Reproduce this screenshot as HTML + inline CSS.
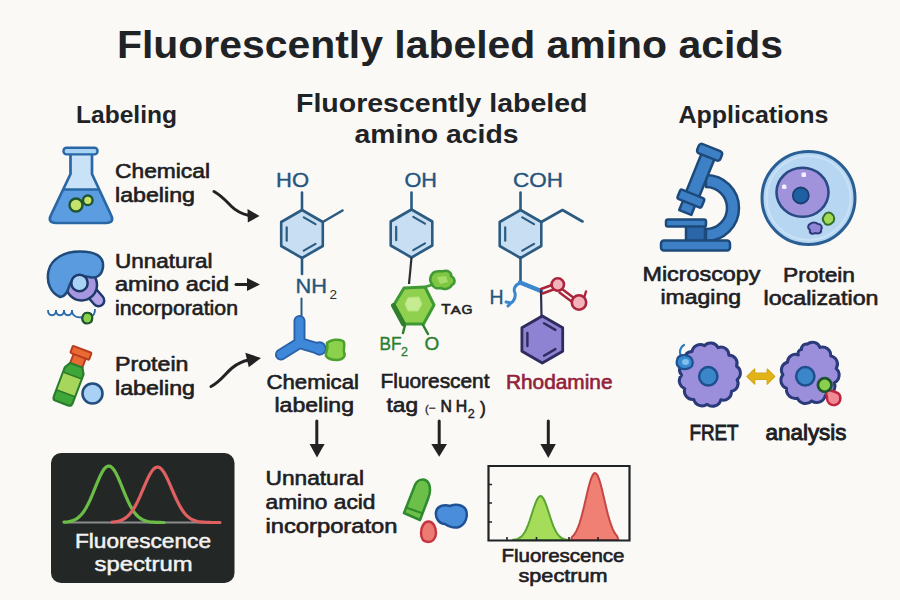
<!DOCTYPE html>
<html><head><meta charset="utf-8">
<style>
html,body{margin:0;padding:0;background:#faf9f6;width:900px;height:600px;overflow:hidden}
svg{display:block}
text{font-family:"Liberation Sans",sans-serif}
.b{font-weight:bold}
.lab{fill:#1d2023;font-size:20.5px;stroke:#1d2023;stroke-width:0.62px}
.chem{fill:#25557d;font-size:19.5px;stroke:#25557d;stroke-width:0.35px}
</style></head><body>
<svg width="900" height="600" viewBox="0 0 900 600">
<rect width="900" height="600" fill="#faf9f6"/>

<!-- ===== TITLES ===== -->
<text x="117" y="58" class="b" font-size="38.5" fill="#1f2326" textLength="666" lengthAdjust="spacingAndGlyphs">Fluorescently labeled amino acids</text>
<text x="76" y="123.3" class="b" font-size="24" fill="#1f2326" textLength="101" lengthAdjust="spacingAndGlyphs">Labeling</text>
<text x="678.5" y="123" class="b" font-size="24" fill="#1f2326" textLength="150" lengthAdjust="spacingAndGlyphs">Applications</text>
<text x="296" y="111.6" class="b" font-size="26" fill="#1f2326" textLength="291.5" lengthAdjust="spacingAndGlyphs">Fluorescently labeled</text>
<text x="354.5" y="143.3" class="b" font-size="26" fill="#1f2326" textLength="164" lengthAdjust="spacingAndGlyphs">amino acids</text>

<!-- ===== LEFT LABELS ===== -->
<text x="115" y="178.2" class="lab" textLength="95" lengthAdjust="spacingAndGlyphs">Chemical</text>
<text x="115" y="202" class="lab" textLength="80" lengthAdjust="spacingAndGlyphs">labeling</text>
<text x="115" y="267.5" class="lab" textLength="97.5" lengthAdjust="spacingAndGlyphs">Unnatural</text>
<text x="115" y="290.7" class="lab" textLength="114" lengthAdjust="spacingAndGlyphs">amino acid</text>
<text x="115" y="314.7" class="lab" textLength="123" lengthAdjust="spacingAndGlyphs">incorporation</text>
<text x="115" y="371.4" class="lab" textLength="73.5" lengthAdjust="spacingAndGlyphs">Protein</text>
<text x="115" y="395" class="lab" textLength="80" lengthAdjust="spacingAndGlyphs">labeling</text>

<!-- ===== CENTER LABELS ===== -->
<text x="266.5" y="388.8" class="lab" textLength="92.5" lengthAdjust="spacingAndGlyphs">Chemical</text>
<text x="274.5" y="412" class="lab" textLength="79.5" lengthAdjust="spacingAndGlyphs">labeling</text>
<text x="380.5" y="387.7" class="lab" textLength="109" lengthAdjust="spacingAndGlyphs">Fluorescent</text>
<text x="386.5" y="412.3" class="lab" textLength="31.5" lengthAdjust="spacingAndGlyphs">tag</text>
<text x="425" y="412.5" class="lab" style="font-size:11px;stroke-width:0.3px">(</text>
<text x="428.5" y="411.5" class="lab" style="font-size:12px;stroke-width:0.3px">−</text>
<text x="440.5" y="412.2" class="lab" style="font-size:15.8px;stroke-width:0.65px">N</text>
<text x="455.8" y="412.2" class="lab" style="font-size:15.8px;stroke-width:0.65px">H</text>
<text x="467.8" y="418" class="lab" style="font-size:12.5px;stroke-width:0.35px">2</text>
<text x="480" y="413.5" class="lab" style="font-size:17.5px;stroke-width:0.6px">)</text>
<text x="506" y="388.8" class="lab" fill="#9c2437" style="fill:#93213a;stroke:#93213a" textLength="106.5" lengthAdjust="spacingAndGlyphs">Rhodamine</text>

<text x="265.5" y="484.9" class="lab" textLength="98.5" lengthAdjust="spacingAndGlyphs">Unnatural</text>
<text x="265.5" y="509" class="lab" textLength="110" lengthAdjust="spacingAndGlyphs">amino acid</text>
<text x="265.5" y="533" class="lab" textLength="132" lengthAdjust="spacingAndGlyphs">incorporaton</text>

<!-- ===== RIGHT LABELS ===== -->
<text x="642.5" y="281.4" class="lab" textLength="118" lengthAdjust="spacingAndGlyphs">Microscopy</text>
<text x="660.5" y="304" class="lab" textLength="80.5" lengthAdjust="spacingAndGlyphs">imaging</text>
<text x="783" y="281.7" class="lab" textLength="72" lengthAdjust="spacingAndGlyphs">Protein</text>
<text x="763.5" y="304.8" class="lab" textLength="115" lengthAdjust="spacingAndGlyphs">localization</text>
<text x="689.5" y="440" class="lab" style="font-size:21.5px;stroke-width:0.9px" textLength="49" lengthAdjust="spacingAndGlyphs">FRET</text>
<text x="765.5" y="440" class="lab" style="font-size:21.5px;stroke-width:0.9px" textLength="81" lengthAdjust="spacingAndGlyphs">analysis</text>

<!-- ===== ARROWS ===== -->
<g fill="none" stroke="#222" stroke-width="3" stroke-linecap="round">
  <path d="M214,191.5 C222,196 226,201 231,206 C236,211 242,214 249,215.5"/>
  <path d="M236,284.5 L248,284.5"/>
  <path d="M211,386.5 C220,382 225,374 232,368 C238,363 243,361 249,360"/>
  <path d="M316.8,421 L316.8,446"/>
  <path d="M439.2,421 L439.2,446"/>
  <path d="M548.3,421 L548.3,446"/>
</g>
<g fill="#222">
  <path d="M259.5,216 L247.5,209 L247.8,222.5Z"/>
  <path d="M260,284.5 L247,278 L247,291Z"/>
  <path d="M261,358 L245.3,352.7 L248.8,367.3Z"/>
  <path d="M309.6,444 L324.6,444 L317,457.5Z"/>
  <path d="M431.3,444 L447,444 L439.2,456.7Z"/>
  <path d="M540.4,444 L555.8,444 L548.3,458Z"/>
</g>

<!-- ===== MOLECULE 1 ===== -->
<text x="276" y="186.7" class="chem" textLength="33" lengthAdjust="spacingAndGlyphs">HO</text>
<g stroke="#2c5b82" stroke-width="2.6" fill="none" stroke-linecap="round" stroke-linejoin="round">
  <path d="M302.0,210.0 L322.8,222.0 L322.8,246.0 L302.0,258.0 L281.2,246.0 L281.2,222.0Z" fill="#c8def2"/>
  <path d="M303.8,217.4 L315.5,224.1 M315.5,243.9 L303.8,250.6 M286.7,240.7 L286.7,227.3" stroke-width="2.2"/>
  <path d="M302,192.5 L302,210 M322.8,222 L342.5,210.5 M302,258 L302,274"/>
  <path d="M301.5,298.5 L301.5,316" stroke-width="2"/>
</g>
<text x="295.5" y="293" class="chem" textLength="31.5" lengthAdjust="spacingAndGlyphs">NH</text>
<text x="329.5" y="299" fill="#2b2f33" font-size="13.5">2</text>
<!-- antibody Y -->
<g stroke-linecap="round" fill="none">
  <path d="M299.5,321 L299.5,343 M299.5,343 L281,354.5 M299.5,343 L318,348.5" stroke="#2a62aa" stroke-width="12"/>
  <circle cx="319.5" cy="348.5" r="7.2" fill="#2a62aa"/>
  <path d="M299.5,321 L299.5,343 M299.5,343 L281,354.5 M299.5,343 L318,348.5" stroke="#3f88d9" stroke-width="8.2"/>
  <circle cx="319.5" cy="348.5" r="5.3" fill="#3f88d9"/>
</g>
<path d="M327,343 C331,339 339,339 343,341 C346,344 343,349 344,352 C346,356 343,360 337,360 C332,360 328,359 326,356 C325,352 329,349 327,343Z" fill="#8cd14b" stroke="#4aa12d" stroke-width="2.5"/>

<!-- ===== MOLECULE 2 ===== -->
<text x="404.5" y="187.2" class="chem" textLength="32.5" lengthAdjust="spacingAndGlyphs">OH</text>
<g stroke="#2c5b82" stroke-width="2.6" fill="none" stroke-linecap="round" stroke-linejoin="round">
  <path d="M411.5,209.5 L432.3,221.5 L432.3,245.5 L411.5,257.5 L390.7,245.5 L390.7,221.5Z" fill="#c8def2"/>
  <path d="M413.3,216.9 L425.0,223.6 M425.0,243.4 L413.3,250.1 M396.2,240.2 L396.2,226.8" stroke-width="2.2"/>
  <path d="M411.5,192.5 L411.5,209.5"/>
</g>
<path d="M411.5,257.5 L409,284" stroke="#2b2f33" stroke-width="2.2" fill="none"/>
<g stroke-linejoin="round">
  <path d="M404,288 L425,287 L434,305 L423.5,324 L403.5,324 L393.5,305.5Z" fill="#8fd14f" stroke="#3f9a34" stroke-width="3"/>
  <path d="M393.5,305.5 L403.5,324" stroke="#2f7f2c" stroke-width="5" stroke-linecap="round"/>
  <path d="M408,297.5 L419,297 L422,304 L418,311 L408,311 L405,304Z" fill="#c5ec90" stroke="#b3e27a" stroke-width="1"/>
  <path d="M425,287 L433,284.5" stroke="#3f9a34" stroke-width="2.5"/>
  <path d="M433,273 C436,270 441,272 444,271 C448,270 452,273 451,276 C455,278 456,283 452,285 C450,289 444,290 441,288 C437,289 433,288 432,284 C429,281 430,276 433,273Z" fill="#7fc743" stroke="#3f9a34" stroke-width="2.5"/>
  <path d="M437,277 L446,276 L448,282 L440,284Z" fill="#a6dc6a"/>
  <path d="M405,325 L403,333 M423,325 L428,334" stroke="#2f7f2c" stroke-width="2.5" stroke-linecap="round"/>
</g>
<text x="441.2" y="313.7" fill="#1f2326" font-size="15.5" stroke="#1f2326" stroke-width="0.6">T</text>
<text x="450.8" y="313.7" fill="#1f2326" font-size="11.5" stroke="#1f2326" stroke-width="0.6" textLength="10" lengthAdjust="spacingAndGlyphs">A</text>
<text x="461.5" y="313.7" fill="#1f2326" font-size="13" stroke="#1f2326" stroke-width="0.6" textLength="11" lengthAdjust="spacingAndGlyphs">G</text>
<text x="379.5" y="349.5" fill="#2b8030" stroke="#2b8030" stroke-width="0.4" font-size="19" textLength="22" lengthAdjust="spacingAndGlyphs">BF</text>
<text x="401" y="355.5" fill="#2b8030" stroke="#2b8030" stroke-width="0.3" font-size="12.5">2</text>
<text x="424.5" y="349.5" fill="#2b8030" stroke="#2b8030" stroke-width="0.4" font-size="19">O</text>

<!-- ===== MOLECULE 3 ===== -->
<text x="513" y="187.2" class="chem" textLength="50" lengthAdjust="spacingAndGlyphs">COH</text>
<g stroke="#2c5b82" stroke-width="2.6" fill="none" stroke-linecap="round" stroke-linejoin="round">
  <path d="M520.5,210.0 L541.3,222.0 L541.3,246.0 L520.5,258.0 L499.7,246.0 L499.7,222.0Z" fill="#c8def2"/>
  <path d="M522.3,217.4 L534.0,224.1 M534.0,243.9 L522.3,250.6 M505.2,240.7 L505.2,227.3" stroke-width="2.2"/>
  <path d="M520.5,192.5 L520.5,210 M541.3,222 L562.5,210 L582.5,221.5 M520.5,258 L520.5,281"/>
</g>
<text x="489.5" y="303.5" fill="#25557d" stroke="#25557d" stroke-width="0.3" font-size="19.5">H</text>
<g fill="none" stroke-linecap="round" stroke-linejoin="round">
  <path d="M520,282.5 L541,291" stroke="#3a87d0" stroke-width="4.5"/>
  <path d="M520,283 C515,285 513,289 515,293 C516,298 513,302 511,303 L508,306 M511,303 L506,302" stroke="#3a87d0" stroke-width="3"/>
  <path d="M541,291 L541.5,316" stroke="#2b2e4a" stroke-width="2.2"/>
  <path d="M541,289 L552,285 M542.5,293.5 L553.5,289.5 M562,289 L574,298 M559.5,292.5 L571.5,301.5 M584,298 L586,291.5" stroke="#aa243b" stroke-width="2.4"/>
</g>
<circle cx="557.8" cy="284.5" r="6.2" fill="#f3b3ba" stroke="#aa243b" stroke-width="2.6"/>
<circle cx="579" cy="302.5" r="7.2" fill="#f3b3ba" stroke="#aa243b" stroke-width="2.6"/>
<g stroke="#2e2b5e" stroke-width="2.8" fill="none" stroke-linecap="round" stroke-linejoin="round">
  <path d="M542.3,316.0 L562.7,327.8 L562.7,351.2 L542.3,363.0 L521.9,351.2 L521.9,327.8Z" fill="#8d83d2"/>
  <path d="M544.0,323.3 L555.4,329.9 M555.4,349.1 L544.0,355.7 M527.4,346.1 L527.4,332.9" stroke-width="2.4"/>
</g>

<!-- ===== FLASK ===== -->
<g stroke="#2a68a5" stroke-width="2.7" stroke-linejoin="round">
  <path d="M70.5,154 L70.5,174 L51,215 C48.5,220 50,223 56,223 L106,223 C112,223 113.5,220 111,215 L92,174 L92,154Z" fill="#c9e2f7" stroke="none"/>
  <path d="M63.1,189.5 L99.2,189.5 L111,215 C113.5,220 112,223 106,223 L56,223 C50,223 48.5,220 51,215Z" fill="#5c9de2" stroke="none"/>
  <path d="M70.5,154 L70.5,174 L51,215 C48.5,220 50,223 56,223 L106,223 C112,223 113.5,220 111,215 L92,174 L92,154" fill="none"/>
  <path d="M63.1,189.5 L99.2,189.5" fill="none" stroke-width="2.4"/>
  <rect x="63.5" y="147.8" width="34" height="6.6" rx="3" fill="#a9d3f5" stroke-width="2.4"/>
</g>
<g stroke="#1f5530" stroke-width="2.4">
  <circle cx="76" cy="205" r="6.5" fill="#c5e36a"/>
  <circle cx="87.8" cy="200.3" r="4.8" fill="#c5e36a"/>
</g>

<!-- ===== RIBOSOME ===== -->
<path d="M48,310 C48,317 56,317 56,310 C56,317 64,317 64,310 C64,317 72,317 72,310 C72,317 78,318 83,317 M92,316 C94,315 95,313 95,309" fill="none" stroke="#2a6aa8" stroke-width="1.8"/>
<g stroke="#1f4a7c" stroke-width="2.5" stroke-linejoin="round">
  <path d="M92,293 L98.5,300.5" stroke="#1f3a6a" stroke-width="14" stroke-linecap="round"/>
  <path d="M92,293 L98.5,300.5" stroke="#b3a4e8" stroke-width="9" stroke-linecap="round" fill="none"/>
  <circle cx="81.5" cy="285" r="15.5" fill="#a696e0" stroke="#1f3a6a"/>
  <path d="M60,297 C51,293 46,283 48.5,271 C51,259 64,251.5 80,251.5 C95,251.5 104,256 103,267 C102,275 97,279 89,277 C80,275 73,277 70,284 C68,289 67,296 60,297Z" fill="#5a9be0"/>
  <circle cx="79.5" cy="283" r="8.2" fill="#a9d3f5" stroke="#1f3a6a"/>
</g>
<path d="M83.5,314.5 C85,312 89,312.5 91,314 C93,316 92.5,320 91,322 C89,324 85,324 83.5,322 C82,320 82,317 83.5,314.5Z" fill="#8bd04a" stroke="#1f5530" stroke-width="2.2"/>

<!-- ===== BOTTLE ===== -->
<g transform="translate(82.3,349.3) rotate(20.7)" stroke-linejoin="round">
  <path d="M-6.5,7 L6.5,7 L6.5,18 L-6.5,18Z" fill="#ea6a33" stroke="#b83d1f" stroke-width="2"/>
  <path d="M-6.5,17 L6.5,17 L10,23 L10,54 C10,56.5 9,57.5 6.5,57.5 L-6.5,57.5 C-9,57.5 -10,56.5 -10,54 L-10,23Z" fill="#3fa63a" stroke="#2a7d2a" stroke-width="2.2"/>
  <rect x="-9" y="28" width="18" height="19" fill="#a6d65c"/>
  <path d="M-10,28 L10,28 M-10,47 L10,47" stroke="#2a7d2a" stroke-width="1.6"/>
  <rect x="-10" y="0" width="20" height="7.5" rx="1" fill="#ea6a33" stroke="#b83d1f" stroke-width="2"/>
</g>
<circle cx="92.5" cy="393.5" r="10" fill="#a9d0f5" stroke="#234f7f" stroke-width="2.6"/>

<!-- ===== MICROSCOPE ===== -->
<g stroke="#1d4a7a" stroke-width="2.5" stroke-linejoin="round" fill="#3d80c6">
  <path d="M706,175 A33,33 0 0 1 706,241 L706,229 A21,21 0 0 0 706,187Z"/>
  <rect x="686" y="225" width="19" height="17" fill="#2a66a8"/>
  <rect x="666" y="219.5" width="40" height="7" rx="2"/>
  <rect x="661" y="240.5" width="69" height="10" rx="3"/>
  <g transform="translate(698,181) rotate(22)">
    <rect x="-7" y="-28" width="14" height="52"/>
    <rect x="-6.5" y="22" width="13" height="12"/>
    <rect x="-13" y="14" width="26" height="10" rx="2"/>
    <rect x="-12.5" y="-36" width="25" height="10" rx="3"/>
  </g>
</g>

<!-- ===== CELL ===== -->
<circle cx="808.5" cy="198" r="46.5" fill="#b7d6f2" stroke="#2a5f94" stroke-width="3"/>
<circle cx="808.5" cy="198" r="42" fill="none" stroke="#c9e1f6" stroke-width="2"/>
<ellipse cx="802.5" cy="192.3" rx="26" ry="24.5" fill="#a192dc" stroke="#2a4a85" stroke-width="2.6"/>
<circle cx="800.8" cy="195.5" r="8" fill="#1f60a2" stroke="#1a3f70" stroke-width="1.8"/>
<rect x="801.5" y="172.5" width="4.5" height="4.5" rx="1" fill="#f4f0ff"/>
<rect x="782" y="184.5" width="4.5" height="4.5" rx="1.5" fill="#f4f0ff"/>
<path d="M824.5,215 C826,212 830,212 832,214 C835,216 835,221 832,223 C829,226 825,225 824,222 C822,220 823,217 824.5,215Z" fill="#a2d955" stroke="#2f6e2f" stroke-width="2"/>
<path d="M810,224 C812,222 816,222 818,224 C821,224 823,227 821,230 C822,233 818,234 815,233 C812,235 809,233 810,230 C807,228 808,225 810,224Z" fill="#8f86d8" stroke="#2e3a7a" stroke-width="2"/>

<!-- ===== FRET ===== -->
<path d="M704.5,345.8 A8.2,8.2 0 0 1 718.0,347.6 A7.9,7.9 0 0 1 728.9,355.2 A7.9,7.9 0 0 1 736.5,366.1 A8.1,8.1 0 0 1 737.0,379.6 A7.7,7.7 0 0 1 731.5,391.2 A8.3,8.3 0 0 1 720.8,399.8 A8.5,8.5 0 0 1 707.2,404.3 A8.6,8.6 0 0 1 693.8,399.4 A8.4,8.4 0 0 1 684.8,388.6 A8.3,8.3 0 0 1 681.6,375.1 A7.8,7.8 0 0 1 684.8,362.4 A7.8,7.8 0 0 1 692.0,351.6 A8.3,8.3 0 0 1 704.5,345.8Z" fill="#9b8fdb" stroke="#2a3a7a" stroke-width="3" stroke-linejoin="round"/>
<circle cx="708.3" cy="376.3" r="9.2" fill="#3a86c8" stroke="#1f4f8f" stroke-width="2.5"/>
<path d="M681,356 C679,352 680,347 684,345" fill="none" stroke="#2a7ac0" stroke-width="2.2" stroke-linecap="round"/>
<path d="M677,360 C678,355 684,354 688,356 C692,357 694,362 692,366 C690,369 684,370 680,368 C677,366 676,363 677,360Z" fill="#3a8ad0" stroke="#1f4f8f" stroke-width="2.2"/>
<ellipse cx="685.5" cy="362" rx="3.5" ry="3" fill="#7fc0ef"/>
<path d="M807.3,344.2 A7.8,7.8 0 0 1 819.9,347.4 A8.3,8.3 0 0 1 830.7,355.9 A8.2,8.2 0 0 1 836.1,368.5 A8.7,8.7 0 0 1 834.3,382.9 A9.3,9.3 0 0 1 825.3,395.5 A8.7,8.7 0 0 1 811.8,400.9 A8.8,8.8 0 0 1 797.4,398.2 A8.8,8.8 0 0 1 786.6,388.3 A8.4,8.4 0 0 1 783.0,374.8 A8.0,8.0 0 0 1 787.5,362.2 A7.8,7.8 0 0 1 798.3,355.0 A3.8,3.8 0 0 1 801.5,349.6 A4.8,4.8 0 0 1 807.3,344.2Z" fill="#9b8fdb" stroke="#2a3a7a" stroke-width="3" stroke-linejoin="round"/>
<circle cx="805.3" cy="376.3" r="9.2" fill="#3a86c8" stroke="#1f4f8f" stroke-width="2.5"/>
<path d="M826,389 C830,391 836,391 839,394 C842,398 840,404 835,405 C830,406 827,402 827,398 C827,395 825,392 826,389Z" fill="#f08a94" stroke="#c0253f" stroke-width="2.4" stroke-linejoin="round"/>
<circle cx="824.7" cy="385" r="6.8" fill="#8bd04a" stroke="#1f5530" stroke-width="2.8"/>
<path d="M747,376.5 L754.7,369 L754.7,373.2 L767.2,373.2 L767.2,369 L774.7,376.5 L767.2,384.2 L767.2,379.5 L754.7,379.5 L754.7,384.2Z" fill="#e3b417" stroke="#d6a515" stroke-width="1.2" stroke-linejoin="round"/>

<!-- ===== DARK BOX ===== -->
<rect x="51" y="453" width="183.5" height="130" rx="10" fill="#232826"/>
<path d="M64,522.5 L220,522.5" stroke="#8a8c8c" stroke-width="2"/>
<path d="M64.0,522.2 L66.0,522.0 L68.0,521.8 L70.0,521.4 L72.0,520.9 L74.0,520.1 L76.0,519.1 L78.0,517.8 L80.0,516.0 L82.0,513.9 L84.0,511.2 L86.0,508.0 L88.0,504.3 L90.0,500.1 L92.0,495.5 L94.0,490.6 L96.0,485.6 L98.0,480.8 L100.0,476.3 L102.0,472.4 L104.0,469.2 L106.0,467.1 L108.0,466.1 L110.0,466.2 L112.0,467.5 L114.0,469.9 L116.0,473.3 L118.0,477.4 L120.0,482.0 L122.0,486.9 L124.0,491.8 L126.0,496.6 L128.0,501.1 L130.0,505.2 L132.0,508.8 L134.0,511.9 L136.0,514.5 L138.0,516.5 L140.0,518.1 L142.0,519.4 L144.0,520.3 L146.0,521.0 L148.0,521.5 L150.0,521.9 L152.0,522.1 L154.0,522.2 L156.0,522.3 L158.0,522.4 L160.0,522.4 L162.0,522.5 L164.0,522.5" fill="none" stroke="#6bbd45" stroke-width="3.2" stroke-linecap="round" stroke-linejoin="round"/>
<path d="M112.0,522.1 L114.0,522.0 L116.0,521.7 L118.0,521.3 L120.0,520.7 L122.0,520.0 L124.0,518.9 L126.0,517.6 L128.0,515.9 L130.0,513.8 L132.0,511.2 L134.0,508.1 L136.0,504.6 L138.0,500.6 L140.0,496.3 L142.0,491.7 L144.0,487.0 L146.0,482.3 L148.0,478.0 L150.0,474.1 L152.0,471.0 L154.0,468.6 L156.0,467.3 L158.0,467.0 L160.0,467.8 L162.0,469.7 L164.0,472.4 L166.0,476.0 L168.0,480.1 L170.0,484.6 L172.0,489.3 L174.0,494.0 L176.0,498.5 L178.0,502.6 L180.0,506.4 L182.0,509.7 L184.0,512.5 L186.0,514.9 L188.0,516.8 L190.0,518.3 L192.0,519.5 L194.0,520.4 L196.0,521.0 L198.0,521.5 L200.0,521.8 L202.0,522.1 L204.0,522.2 L206.0,522.3 L208.0,522.4 L210.0,522.4 L212.0,522.5 L214.0,522.5 L216.0,522.5 L218.0,522.5 L220.0,522.5" fill="none" stroke="#df6060" stroke-width="3.2" stroke-linecap="round" stroke-linejoin="round"/>
<text x="75" y="548.4" fill="#f2f2f2" font-size="20.5" stroke="#f2f2f2" stroke-width="0.5" textLength="136" lengthAdjust="spacingAndGlyphs">Fluorescence</text>
<text x="94.5" y="570.5" fill="#f2f2f2" font-size="20.5" stroke="#f2f2f2" stroke-width="0.5" textLength="98" lengthAdjust="spacingAndGlyphs">spectrum</text>

<!-- ===== BOTTOM BLOBS ===== -->
<path d="M404,513 L415,485 C418,478 426,478 429,484 C431,489 430,494 428,499 L420,520Z" fill="#6cc04a" stroke="#2e8a2e" stroke-width="2.5" stroke-linejoin="round"/>
<path d="M406,507.5 L423,513.5" stroke="#2e8a2e" stroke-width="2"/>
<path d="M436,512 C437,506 444,504 450,506 C455,504 463,504 466,510 C468,516 466,524 459,527 C453,529 448,526 445,524 C440,524 435,519 436,512Z" fill="#4a8edb" stroke="#1f5294" stroke-width="2.5"/>
<path d="M428.5,521.5 C433,521.5 436,527 436,533 C436,539 432,542 428.5,542 C424,542 421,539 421,533 C421,527 424,521.5 428.5,521.5Z" fill="#ec7b74" stroke="#c63440" stroke-width="2.4"/>

<!-- ===== RIGHT CHART ===== -->
<path d="M513.0,539.8 L514.5,539.6 L516.0,539.3 L517.5,538.9 L519.0,538.2 L520.5,537.2 L522.0,535.9 L523.5,534.0 L525.0,531.7 L526.5,528.7 L528.0,525.1 L529.5,521.0 L531.0,516.4 L532.5,511.7 L534.0,507.2 L535.5,503.0 L537.0,499.6 L538.5,497.2 L540.0,496.1 L541.5,496.3 L543.0,497.9 L544.5,500.6 L546.0,504.3 L547.5,508.7 L549.0,513.3 L550.5,518.0 L552.0,522.4 L553.5,526.3 L555.0,529.7 L556.5,532.5 L558.0,534.7 L559.5,536.4 L561.0,537.6 L562.5,538.5 L564.0,539.0 L565.5,539.4 L567.0,539.7 L568,540 Z" fill="#a5dc5a" stroke="#5aa532" stroke-width="2" stroke-linejoin="round"/>
<path d="M571,540 L572.0,536.9 L573.5,535.4 L575.0,533.4 L576.5,530.7 L578.0,527.4 L579.5,523.3 L581.0,518.4 L582.5,512.8 L584.0,506.7 L585.5,500.2 L587.0,493.7 L588.5,487.5 L590.0,482.0 L591.5,477.6 L593.0,474.5 L594.5,473.1 L596.0,473.4 L597.5,475.4 L599.0,478.9 L600.5,483.7 L602.0,489.5 L603.5,495.9 L605.0,502.4 L606.5,508.8 L608.0,514.8 L609.5,520.1 L611.0,524.7 L612.5,528.6 L614.0,531.7 L615.5,534.1 L617.0,535.9 L618.5,540Z" fill="#f08074" stroke="#c64545" stroke-width="2" stroke-linejoin="round"/>
<path d="M488.5,466 L629.5,466 L629.5,540.5 L488.5,540.5Z" fill="none" stroke="#1f2326" stroke-width="2.2"/>
<path d="M488.5,484.5 L492,484.5 M488.5,503 L492,503 M488.5,522 L492,522 M507,540.5 L507,537 M536.5,540.5 L536.5,537 M569,540.5 L569,537 M598,540.5 L598,537" stroke="#1f2326" stroke-width="1.6"/>
<text x="501.5" y="561.8" class="lab" style="font-size:19px" textLength="123" lengthAdjust="spacingAndGlyphs">Fluorescence</text>
<text x="518.5" y="582" class="lab" style="font-size:19px" textLength="89" lengthAdjust="spacingAndGlyphs">spectrum</text>

</svg>
</body></html>
